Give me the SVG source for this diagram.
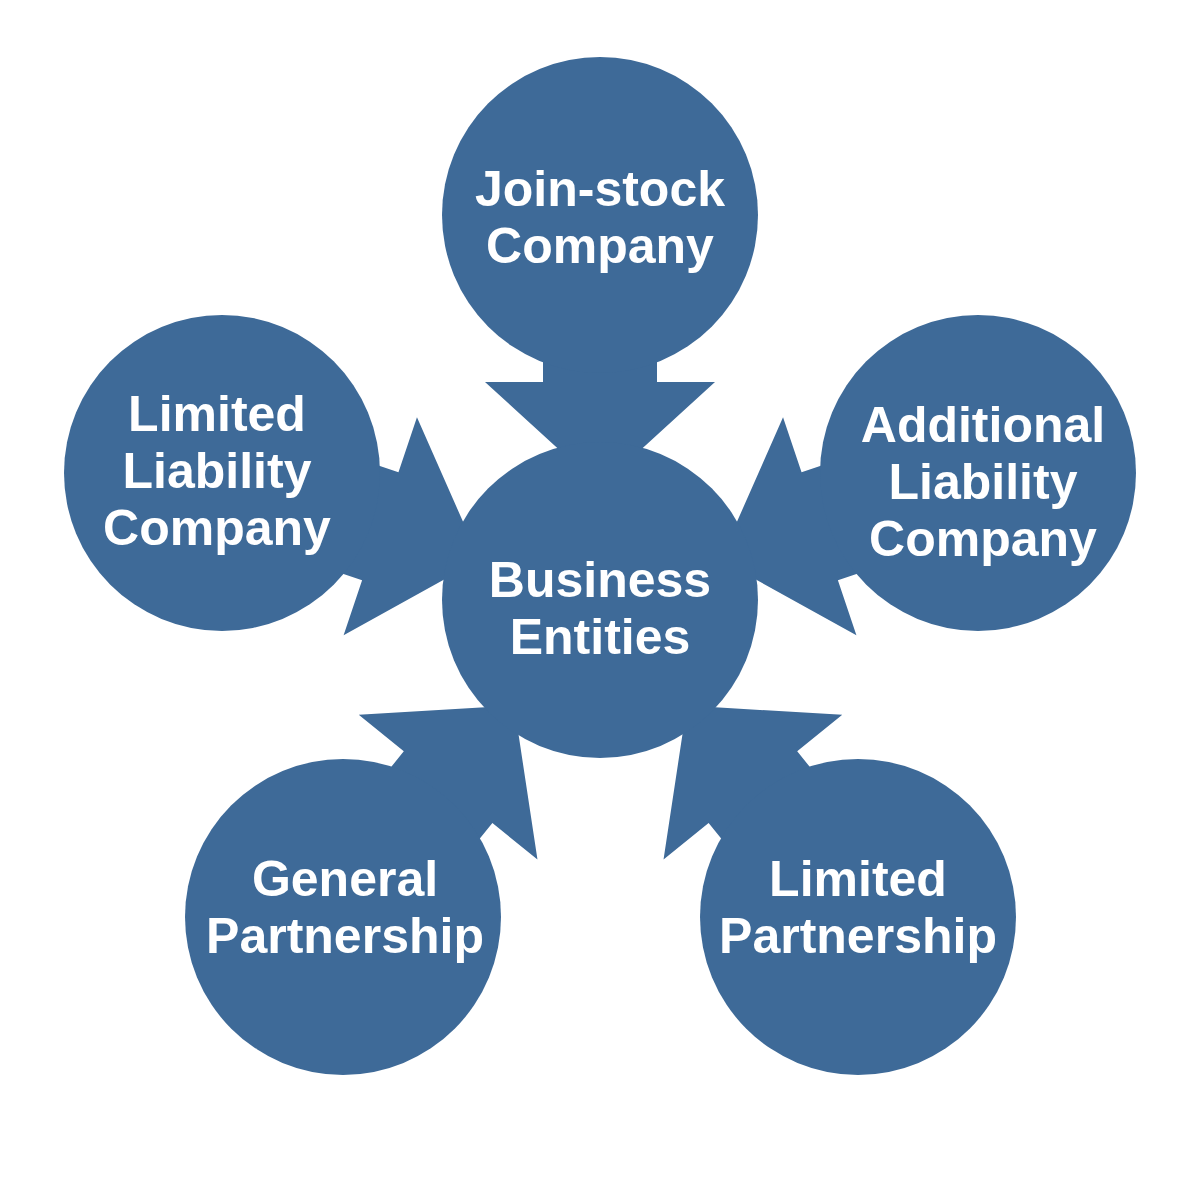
<svg xmlns="http://www.w3.org/2000/svg" width="1200" height="1200" viewBox="0 0 1200 1200">
<style>
.c{fill:#3e6a98}
.t{fill:#fff;font-family:"Liberation Sans",Arial,sans-serif;font-weight:bold;font-size:50px;text-anchor:middle}
</style>
<defs>
<path id="arr" class="c" d="M-57,120 L57,120 L57,167 L115,167 L0,272 L-115,167 L-57,167 Z"/>
</defs>
<rect width="1200" height="1200" fill="#fff"/>
<g id="connectors">
<use href="#arr" transform="translate(600,215)"/>
<use href="#arr" transform="translate(978,473) rotate(71.4)"/>
<use href="#arr" transform="translate(222,473) rotate(-71.4)"/>
<use href="#arr" transform="translate(343,917) rotate(-141)"/>
<use href="#arr" transform="translate(858,917) rotate(141)"/>
</g>
<g id="center"><circle class="c" cx="600" cy="600" r="158"/>
<text class="t" x="600" y="597">Business</text><text class="t" x="600" y="654">Entities</text></g>
<g id="top"><circle class="c" cx="600" cy="215" r="158"/>
<text class="t" x="600" y="206">Join-stock</text><text class="t" x="600" y="263">Company</text></g>
<g id="right"><circle class="c" cx="978" cy="473" r="158"/>
<text class="t" x="983" y="442">Additional</text><text class="t" x="983" y="499">Liability</text><text class="t" x="983" y="556">Company</text></g>
<g id="left"><circle class="c" cx="222" cy="473" r="158"/>
<text class="t" x="217" y="431">Limited</text><text class="t" x="217" y="488">Liability</text><text class="t" x="217" y="545">Company</text></g>
<g id="bl"><circle class="c" cx="343" cy="917" r="158"/>
<text class="t" x="345" y="896">General</text><text class="t" x="345" y="953">Partnership</text></g>
<g id="br"><circle class="c" cx="858" cy="917" r="158"/>
<text class="t" x="858" y="896">Limited</text><text class="t" x="858" y="953">Partnership</text></g>
</svg>
